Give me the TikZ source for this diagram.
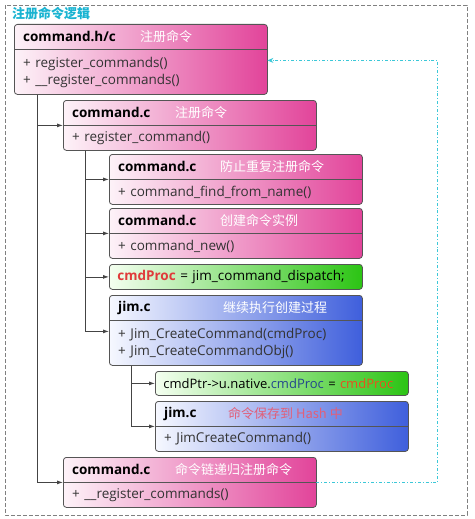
\documentclass[tikz,border=0pt]{standalone}
\usepackage{fontspec}
\setmainfont{Open Sans}
\newfontfamily\cjk{Noto Sans CJK SC}
\usepackage{tikz}
\usetikzlibrary{positioning, arrows.meta}
\definecolor{pinkL}{HTML}{FDF2F8}
\definecolor{pinkR}{HTML}{E2449A}
\definecolor{blueL}{HTML}{F6F8FF}
\definecolor{blueR}{HTML}{3F5FDC}
\definecolor{greenL}{HTML}{F4FFF0}
\definecolor{greenR}{HTML}{2CC414}
\definecolor{boxB}{HTML}{555555}
\definecolor{lineC}{HTML}{444444}
\definecolor{txtGray}{HTML}{333333}
\definecolor{cyanC}{HTML}{3CC8D8}
\definecolor{titleC}{HTML}{19B3D1}
\definecolor{procRed}{HTML}{E03A3A}
\definecolor{procBlue}{HTML}{24468C}
\definecolor{procOrange}{HTML}{E8501E}
\definecolor{hashRed}{HTML}{E0607A}
\definecolor{frameC}{HTML}{808080}

\begin{document}
\begin{tikzpicture}[x=1pt, y=-1pt, font=\fontsize{13.5}{17}\selectfont,
  box/.style={draw=boxB, line width=0.8pt, rounded corners=3pt, anchor=north west, minimum width=253pt, inner sep=0pt},
  pinkbox/.style={box, left color=pinkL, right color=pinkR},
  bluebox/.style={box, left color=blueL, right color=blueR},
  greenbox/.style={box, left color=greenL, right color=greenR, text width=237pt, inner xsep=8pt, align=left, minimum height=25pt},
  hdr/.style={anchor=north west, inner xsep=9pt, inner ysep=0pt, text width=235pt, minimum height=25pt, align=left, font=\fontsize{13.5}{17}\selectfont\bfseries},
  tag/.style={anchor=west, inner sep=0pt, text=white, font=\fontsize{13}{15}\selectfont\cjk},
  body/.style={anchor=north west, inner xsep=9pt, inner ysep=0pt, text width=235pt, align=left, text=txtGray},
  divider/.style={draw=boxB, line width=0.8pt},
  conn/.style={draw=lineC, line width=0.8pt, -{Latex[length=6pt, width=4pt]}},
  loopback/.style={draw=cyanC, line width=0.8pt, dash dot, -{Stealth[length=6pt, width=5pt]}},
  outerframe/.style={draw=frameC, line width=0.9pt, dash pattern=on 4pt off 2pt}]
\useasboundingbox (0,0) rectangle (474,519);
\draw[outerframe] (5,5) rectangle (467,515);
\node[anchor=west, inner sep=0pt, text=titleC, font=\fontsize{13}{15}\selectfont\cjk\bfseries] (title) at (12,14) {注册命令逻辑};
% command.h/c
\node[pinkbox, minimum height=70pt] (b1) at (14,24) {};
\node[hdr] (b1h) at (b1.north west) {command.h/c};
\node[tag, right=126pt of b1h.west] (b1t) {注册命令};
\node[body, minimum height=45pt] (b1b) at (b1h.south west) {+ register\_commands()\\+ \_\_register\_commands()};
\draw[divider] (b1h.south west) -- (b1h.south east);
% command.c register_command
\node[pinkbox, minimum height=50pt] (b2) at (63,100) {};
\node[hdr] (b2h) at (b2.north west) {command.c};
\node[tag, right=112pt of b2h.west] (b2t) {注册命令};
\node[body, minimum height=25pt] (b2b) at (b2h.south west) {+ register\_command()};
\draw[divider] (b2h.south west) -- (b2h.south east);
% command.c find
\node[pinkbox, minimum height=50pt] (b3) at (109,154) {};
\node[hdr] (b3h) at (b3.north west) {command.c};
\node[tag, right=111pt of b3h.west] (b3t) {防止重复注册命令};
\node[body, minimum height=25pt] (b3b) at (b3h.south west) {+ command\_find\_from\_name()};
\draw[divider] (b3h.south west) -- (b3h.south east);
% command.c new
\node[pinkbox, minimum height=50pt] (b4) at (109,208) {};
\node[hdr] (b4h) at (b4.north west) {command.c};
\node[tag, right=111pt of b4h.west] (b4t) {创建命令实例};
\node[body, minimum height=25pt] (b4b) at (b4h.south west) {+ command\_new()};
\draw[divider] (b4h.south west) -- (b4h.south east);
% cmdProc
\node[greenbox] (b5) at (109,264) {{\bfseries\color{procRed}cmdProc} = jim\_command\_dispatch;};
% jim.c create
\node[bluebox, minimum height=70pt] (b6) at (109,295) {};
\node[hdr] (b6h) at (b6.north west) {jim.c};
\node[tag, right=114pt of b6h.west] (b6t) {继续执行创建过程};
\node[body, minimum height=45pt] (b6b) at (b6h.south west) {+ Jim\_CreateCommand(cmdProc)\\+ Jim\_CreateCommandObj()};
\draw[divider] (b6h.south west) -- (b6h.south east);
% cmdPtr
\node[greenbox, minimum height=24pt, font=\fontsize{13}{17}\selectfont] (b7) at (155,371) {cmdPtr->u.native.{\color{procBlue}cmdProc} = {\color{procOrange}cmdProc}};
% jim.c hash
\node[bluebox, minimum height=50pt] (b8) at (155,401) {};
\node[hdr] (b8h) at (b8.north west) {jim.c};
\node[tag, right=73pt of b8h.west, text=hashRed] (b8t) {命令保存到 Hash 中};
\node[body, minimum height=25pt] (b8b) at (b8h.south west) {+ JimCreateCommand()};
\draw[divider] (b8h.south west) -- (b8h.south east);
% command.c recursion
\node[pinkbox, minimum height=50pt] (b9) at (63,457) {};
\node[hdr] (b9h) at (b9.north west) {command.c};
\node[tag, right=112pt of b9h.west] (b9t) {命令链递归注册命令};
\node[body, minimum height=25pt] (b9b) at (b9h.south west) {+ \_\_register\_commands()};
\draw[divider] (b9h.south west) -- (b9h.south east);
% connectors
\draw[conn] ([xshift=23pt]b1.south west) |- (b2h.south west);
\draw[conn] ([xshift=23pt]b1.south west) |- (b9h.south west);
\draw[conn] ([xshift=22pt]b2.south west) |- (b3h.south west);
\draw[conn] ([xshift=22pt]b2.south west) |- (b4h.south west);
\draw[conn] ([xshift=22pt]b2.south west) |- (b5.west);
\draw[conn] ([xshift=22pt]b2.south west) |- ([yshift=-11pt]b6h.south west);
\draw[conn] ([xshift=22pt]b6.south west) |- (b7.west);
\draw[conn] ([xshift=22pt]b6.south west) |- (b8h.south west);
\draw[loopback] (b9h.south east) -- ++(121,0) |- ([yshift=-11pt]b1h.south east);
\end{tikzpicture}
\end{document}
